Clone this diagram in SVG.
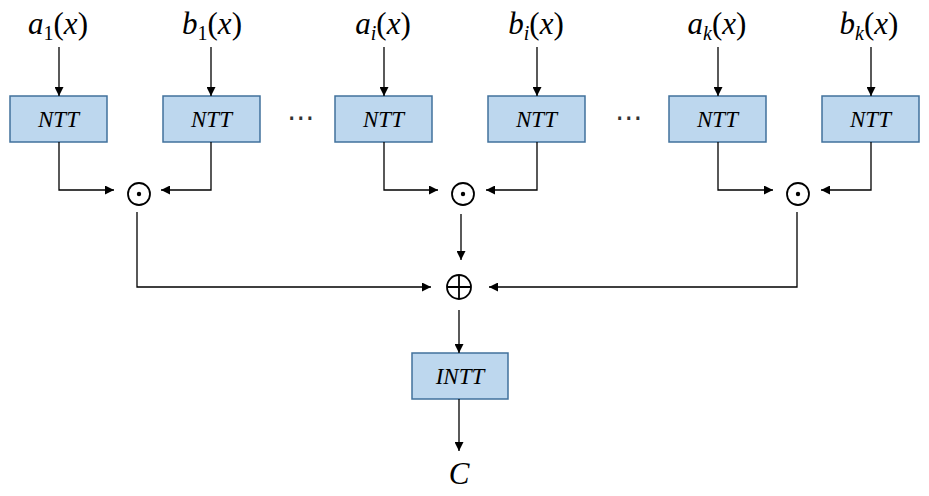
<svg xmlns="http://www.w3.org/2000/svg" width="929" height="496" viewBox="0 0 929 496">
<defs>
<marker id="ah" viewBox="0 0 10 10" refX="10" refY="5" markerWidth="9" markerHeight="9" markerUnits="userSpaceOnUse" orient="auto">
<path d="M0,0 L10,5 L0,10 z" fill="#000"/>
</marker>
<style>
.box{fill:#BDD7EE;stroke:#41719C;stroke-width:1.5}
.bt{font-family:"Liberation Serif",serif;font-style:italic;font-size:23px;text-anchor:middle;fill:#000}
.lab{font-family:"Liberation Serif",serif;font-size:31px;text-anchor:middle;fill:#000}
.it{font-style:italic}
.sub{font-size:20px}
.con{fill:none;stroke:#000;stroke-width:1.3;marker-end:url(#ah)}
.op{fill:none;stroke:#000;stroke-width:1.8}
.dots{font-family:"DejaVu Sans",sans-serif;font-size:28px;text-anchor:middle;fill:#333}
</style>
</defs>
<rect width="929" height="496" fill="#fff"/>
<g id="labels">
<text class="lab" x="58" y="34"><tspan class="it">a</tspan><tspan class="sub" dy="6">1</tspan><tspan dy="-6">(</tspan><tspan class="it">x</tspan>)</text>
<text class="lab" x="212" y="34"><tspan class="it">b</tspan><tspan class="sub" dy="6">1</tspan><tspan dy="-6">(</tspan><tspan class="it">x</tspan>)</text>
<text class="lab" x="383" y="34"><tspan class="it">a</tspan><tspan class="sub it" dy="6">i</tspan><tspan dy="-6">(</tspan><tspan class="it">x</tspan>)</text>
<text class="lab" x="536" y="34"><tspan class="it">b</tspan><tspan class="sub it" dy="6">i</tspan><tspan dy="-6">(</tspan><tspan class="it">x</tspan>)</text>
<text class="lab" x="717" y="34"><tspan class="it">a</tspan><tspan class="sub it" dy="6">k</tspan><tspan dy="-6">(</tspan><tspan class="it">x</tspan>)</text>
<text class="lab" x="869" y="34"><tspan class="it">b</tspan><tspan class="sub it" dy="6">k</tspan><tspan dy="-6">(</tspan><tspan class="it">x</tspan>)</text>
<text class="lab it" x="459" y="484" font-size="29">C</text>
<text class="dots" x="301" y="127">⋯</text>
<text class="dots" x="629" y="127">⋯</text>
</g>
<g id="ntt-a1"><rect class="box" x="10" y="96" width="97" height="46"/><text class="bt" x="58.5" y="127">NTT</text></g>
<g id="ntt-b1"><rect class="box" x="163" y="96" width="97" height="46"/><text class="bt" x="211.5" y="127">NTT</text></g>
<g id="ntt-ai"><rect class="box" x="335" y="96" width="97" height="46"/><text class="bt" x="383.5" y="127">NTT</text></g>
<g id="ntt-bi"><rect class="box" x="488" y="96" width="97" height="46"/><text class="bt" x="536.5" y="127">NTT</text></g>
<g id="ntt-ak"><rect class="box" x="669" y="96" width="97" height="46"/><text class="bt" x="717.5" y="127">NTT</text></g>
<g id="ntt-bk"><rect class="box" x="822" y="96" width="97" height="46"/><text class="bt" x="870.5" y="127">NTT</text></g>
<g id="intt"><rect class="box" x="412" y="353" width="96" height="46"/><text class="bt" x="460" y="384">INTT</text></g>
<g id="mul-1"><circle class="op" cx="139" cy="194" r="11"/><circle cx="139" cy="194" r="2.2"/></g>
<g id="mul-i"><circle class="op" cx="463" cy="194" r="11"/><circle cx="463" cy="194" r="2.2"/></g>
<g id="mul-k"><circle class="op" cx="798" cy="194" r="11"/><circle cx="798" cy="194" r="2.2"/></g>
<g id="add"><circle class="op" cx="459" cy="287" r="12"/><path class="op" d="M447,287 H471 M459,275 V299"/></g>
<g id="connectors">
<path class="con" d="M59,47 V96"/>
<path class="con" d="M211,47 V96"/>
<path class="con" d="M384,47 V96"/>
<path class="con" d="M537,47 V96"/>
<path class="con" d="M718,47 V96"/>
<path class="con" d="M871,47 V96"/>
<path class="con" d="M59,142 V190 H114"/>
<path class="con" d="M211,142 V190 H161"/>
<path class="con" d="M384,142 V190 H438"/>
<path class="con" d="M537,142 V190 H486"/>
<path class="con" d="M718,142 V190 H773"/>
<path class="con" d="M871,142 V190 H821"/>
<path class="con" d="M137,212 V287 H431"/>
<path class="con" d="M461,214 V260"/>
<path class="con" d="M797,212 V287 H489"/>
<path class="con" d="M459,310 V353"/>
<path class="con" d="M459,399 V451"/>
</g>
</svg>
